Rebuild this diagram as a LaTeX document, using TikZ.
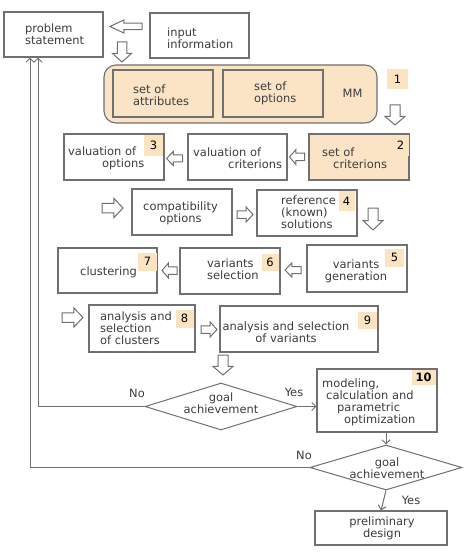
\documentclass[tikz,border=0pt]{standalone}
\usepackage{fontspec}
\setmainfont{DejaVu Sans}
\usetikzlibrary{shapes.geometric,arrows.meta,calc}
\definecolor{bordergray}{HTML}{707070}
\definecolor{txtgray}{HTML}{3C3C3C}
\definecolor{peach}{HTML}{FBE4C6}
\definecolor{peachlabel}{HTML}{FCE3C2}
\begin{document}
\begin{tikzpicture}[x=1bp,y=-1bp,
  box/.style={draw=bordergray,line width=1.1bp,inner sep=0,minimum width=100bp,minimum height=46bp},
  fbox/.style={box,fill=peach},
  txt/.style={inner sep=0,align=left,text=txtgray,font=\fontsize{11.5}{12}\selectfont},
  ctxt/.style={txt,align=center},
  numlab/.style={fill=peachlabel,inner sep=0,minimum width=18bp,minimum height=19bp,font=\fontsize{11.5}{12}\selectfont},
  conn/.style={draw=bordergray,line width=1bp},
  tip/.style={-{Straight Barb[length=4bp,width=8bp]}},
  dia/.style={diamond,draw=bordergray,line width=1bp,inner sep=0,minimum width=152bp,minimum height=47bp},
  lab/.style={inner sep=0,text=txtgray,font=\fontsize{11.5}{12}\selectfont},
  hollowarrow/.pic={
    \draw[draw=bordergray,line width=1bp,fill=white,line join=miter]
      (-0.5,-0.25) -- (0.07,-0.25) -- (0.07,-0.5) -- (0.5,0) -- (0.07,0.5) -- (0.07,0.25) -- (-0.5,0.25) -- cycle;
  }
]
\useasboundingbox[fill=white] (0,0) rectangle (474,553);

% boxes
\node[box,minimum width=99bp,minimum height=45bp] (ps) at (53.5,34.5) {};
\node[box,minimum width=99bp,minimum height=45bp] (in) at (199.5,35.5) {};
\node[fbox,rounded corners=12bp,minimum width=273bp,minimum height=58bp] (mm) at (240.5,94) {};
\node[fbox,minimum height=47bp] (attr) at (163,93.5) {};
\node[fbox,minimum height=47bp] (opt) at (273,93.5) {};
\node[box] (vo) at (114,157) {};
\node[box,minimum width=99bp] (vc) at (237.5,157) {};
\node[fbox] (sc) at (359,157) {};
\node[box] (co) at (182,212) {};
\node[box] (rf) at (307,213) {};
\node[box,minimum width=99bp,minimum height=45bp] (cl) at (107.5,270.5) {};
\node[box] (vs) at (230,271) {};
\node[box,minimum height=47bp] (vg) at (357,268.5) {};
\node[box,minimum width=106bp,minimum height=47bp] (ac) at (142,328.5) {};
\node[box,minimum width=158bp] (av) at (299,329) {};
\node[box,minimum width=120bp,minimum height=63bp] (mod) at (377,400.5) {};
\node[box,minimum width=132bp,minimum height=34bp] (pd) at (381,528) {};
\node[dia] (d1) at (221,406.5) {};
\node[dia,minimum height=45bp] (d2) at (386,467.5) {};

% texts
\node[txt,anchor=west] (ps-t) at (25,34) {problem\\statement};
\node[txt,anchor=west] (in-t) at (167,38) {input\\information};
\node[txt,anchor=west] (attr-t) at (133,95) {set of\\attributes};
\node[txt,anchor=west] (opt-t) at (254,93.5) {set of\\options};
\node[txt] (mm-t) at (352.5,93) {MM};
\node[txt,anchor=west] (vo-t) at (68,158) {valuation of\\\hspace*{34bp}options};
\node[txt,anchor=west] (vc-t) at (193,158) {valuation of\\\hspace*{35bp}criterions};
\node[txt,anchor=west] (sc-t) at (322,158) {set of\\\hspace*{11bp}criterions};
\node[ctxt] (co-t) at (180.5,213.5) {compatibility\\options};
\node[txt,anchor=west] (rf-t) at (281,212.5) {reference\\(known)\\solutions};
\node[txt,anchor=west] (cl-t) at (80,272) {clustering};
\node[txt,anchor=west] (vs-t) at (207,269.5) {variants\\selection};
\node[ctxt] (vg-t) at (356,271.5) {variants\\generation};
\node[txt,anchor=west] (ac-t) at (100,328.5) {analysis and\\selection\\of clusters};
\node[ctxt] (av-t) at (286,332.5) {analysis and selection\\of variants};
\node[txt,anchor=west] (mod-t) at (322,402) {modeling,\\\hspace*{4bp}calculation and\\\hspace*{15bp}parametric\\\hspace*{22bp}optimization};
\node[ctxt] (pd-t) at (382,528.5) {preliminary\\design};
\node[ctxt] (d1-t) at (221,403.5) {goal\\achievement};
\node[ctxt] (d2-t) at (387,468) {goal\\achievement};

% number labels
\node[numlab,minimum width=21bp,minimum height=20bp] (n1) at (397.5,79) {1};
\node[numlab,minimum width=16bp,minimum height=21bp] (n2) at (400.5,145.5) {2};
\node[numlab,minimum width=19bp,minimum height=21bp] (n3) at (153.5,145.5) {3};
\node[numlab,minimum width=16bp,minimum height=20bp] (n4) at (346.5,201) {4};
\node[numlab,minimum width=19bp,minimum height=18bp] (n5) at (394.5,257.5) {5};
\node[numlab,minimum width=17bp,minimum height=17bp] (n6) at (270,262) {6};
\node[numlab,minimum width=19bp,minimum height=18bp] (n7) at (147.5,261.5) {7};
\node[numlab,minimum width=18bp,minimum height=18bp] (n8) at (184.5,318.5) {8};
\node[numlab,minimum width=19bp,minimum height=17bp] (n9) at (367.5,320) {9};
\node[numlab,minimum width=24bp,minimum height=15bp,font=\fontsize{11.5}{12}\selectfont\bfseries] (n10) at (423.5,377) {10};

% block arrows
\pic[rotate=180,xscale=32,yscale=13] at (126,26.5) {hollowarrow};
\pic[rotate=-90,xscale=20,yscale=19] at (122,52) {hollowarrow};
\pic[rotate=-90,xscale=20,yscale=20] at (395,115) {hollowarrow};
\pic[rotate=180,xscale=16,yscale=14] at (174.5,158.5) {hollowarrow};
\pic[rotate=180,xscale=15,yscale=15] at (297,157) {hollowarrow};
\pic[xscale=21,yscale=19] at (112.5,208) {hollowarrow};
\pic[xscale=16,yscale=15] at (245,214.5) {hollowarrow};
\pic[rotate=-90,xscale=22,yscale=20] at (373,219) {hollowarrow};
\pic[rotate=180,xscale=15,yscale=15] at (169.5,270.5) {hollowarrow};
\pic[rotate=180,xscale=16,yscale=14] at (293,270) {hollowarrow};
\pic[xscale=21,yscale=19] at (72.5,317.5) {hollowarrow};
\pic[xscale=16,yscale=15] at (209,329.5) {hollowarrow};
\pic[rotate=-90,xscale=20,yscale=20] at (223,365) {hollowarrow};

% connectors
\coordinate (c1) at (38,406.5);
\coordinate (c2) at (30,467.5);
\draw[conn,tip] (d1.west) -- (c1) -- (c1 |- ps.south);
\draw[conn,tip] (d2.west) -- (c2) -- (c2 |- ps.south);
\draw[conn,tip] (d1.east) -- (d1.east -| mod.west);
\draw[conn,tip] (d2.north |- mod.south) -- (d2.north);
\draw[conn,tip] (d2.south) -- (pd.north);

% connector labels
\node[lab] (no1) at (137,393) {No};
\node[lab] (yes1) at (294,392) {Yes};
\node[lab] (no2) at (304,455) {No};
\node[lab] (yes2) at (411,500) {Yes};
\end{tikzpicture}
\end{document}
